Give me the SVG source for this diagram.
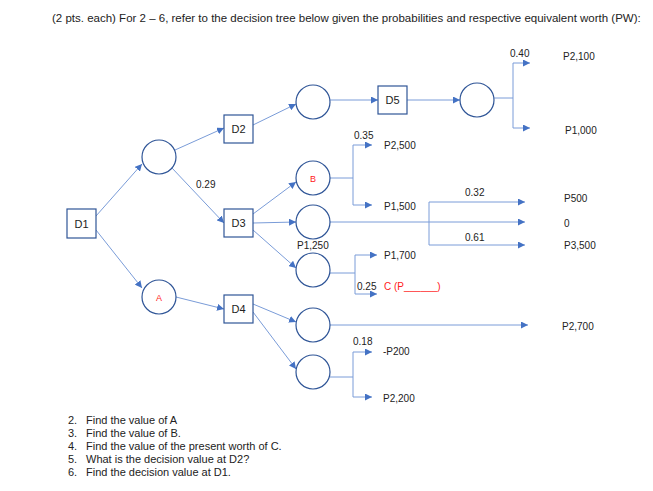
<svg xmlns="http://www.w3.org/2000/svg" width="653" height="491" viewBox="0 0 653 491">
<defs>
<marker id="ar" viewBox="0 0 10 10" refX="10" refY="5" markerWidth="7" markerHeight="7" orient="auto" markerUnits="userSpaceOnUse"><path d="M0,0L10,5L0,10Z" fill="#4472C4"/></marker>
</defs>
<style>
text{font-family:"Liberation Sans",Arial,sans-serif;font-size:10px;fill:#222}
.t{font-size:11px}
.h{font-size:11.5px}
.q{font-size:11px}
.r{fill:#ff2020}
rect{fill:#fff;stroke:#2F5597;stroke-width:1.2}
circle{fill:#fff;stroke:#2F5597;stroke-width:1.2}
.c path,.c line{stroke:#7A9CD8;stroke-width:1;fill:none}
.a{marker-end:url(#ar)}
</style>
<rect width="653" height="491" fill="#fff" style="stroke:none"/>
<text x="52" y="22" class="h">(2 pts. each) For 2 – 6, refer to the decision tree below given the probabilities and respective equivalent worth (PW):</text>
<g class="c">
<line class="a" x1="96" y1="216" x2="142" y2="164"/>
<line class="a" x1="96" y1="230" x2="142" y2="288"/>
<line class="a" x1="175" y1="150" x2="224" y2="128"/>
<line class="a" x1="172" y1="168" x2="224" y2="223"/>
<line class="a" x1="176" y1="297" x2="224" y2="309"/>
<line class="a" x1="253" y1="125" x2="296" y2="104"/>
<line class="a" x1="253" y1="214" x2="296" y2="182"/>
<line class="a" x1="253" y1="223" x2="296" y2="222"/>
<line class="a" x1="253" y1="230" x2="296" y2="268"/>
<line class="a" x1="253" y1="304" x2="296" y2="322"/>
<line class="a" x1="253" y1="312" x2="296" y2="369"/>
<line class="a" x1="330" y1="100" x2="378" y2="100"/>
<line class="a" x1="407" y1="100" x2="460" y2="100"/>
<line x1="494" y1="98" x2="513" y2="98"/>
<path class="a" d="M513,98V63H530"/>
<path class="a" d="M513,98V128H530"/>
<line x1="330" y1="178" x2="353" y2="178"/>
<path class="a" d="M353,178V145H372"/>
<path class="a" d="M353,178V205H372"/>
<line class="a" x1="330" y1="222" x2="525" y2="222"/>
<path class="a" d="M429,222V202H525"/>
<path class="a" d="M429,222V245H525"/>
<line x1="330" y1="273" x2="355" y2="273"/>
<path class="a" d="M355,273V255H377"/>
<path class="a" d="M355,273V294H377"/>
<line class="a" x1="330" y1="325" x2="528" y2="325"/>
<line x1="330" y1="377" x2="353" y2="377"/>
<path class="a" d="M353,377V352H372"/>
<path class="a" d="M353,377V397H372"/>
</g>
<g id="D1"><rect x="67" y="209" width="29" height="29"/><text x="81.5" y="228" text-anchor="middle" class="t">D1</text></g>
<g id="C1"><circle cx="159" cy="157" r="17"/></g>
<g id="A"><circle cx="159" cy="297" r="17"/><text x="159" y="301" text-anchor="middle" class="r" style="font-size:9px">A</text></g>
<g id="D2"><rect x="224" y="115" width="29" height="28"/><text x="238.5" y="133" text-anchor="middle" class="t">D2</text></g>
<g id="D3"><rect x="224" y="209" width="29" height="28"/><text x="238.5" y="227" text-anchor="middle" class="t">D3</text></g>
<g id="D4"><rect x="224" y="295" width="29" height="28"/><text x="238.5" y="313" text-anchor="middle" class="t">D4</text></g>
<g id="C2"><circle cx="313" cy="102" r="17"/></g>
<g id="B"><circle cx="313" cy="178" r="17"/><text x="313" y="182" text-anchor="middle" class="r" style="font-size:9px">B</text></g>
<g id="C3"><circle cx="313" cy="222" r="17"/></g>
<g id="C4"><circle cx="313" cy="270" r="17"/></g>
<g id="C5"><circle cx="313" cy="325" r="17"/></g>
<g id="C6"><circle cx="313" cy="372" r="17"/></g>
<g id="D5"><rect x="378" y="86" width="29" height="28"/><text x="392.5" y="104" text-anchor="middle" class="t">D5</text></g>
<g id="C7"><circle cx="477" cy="100" r="17"/></g>
<text x="196" y="188">0.29</text>
<text x="510" y="57">0.40</text>
<text x="563" y="60">P2,100</text>
<text x="565" y="134">P1,000</text>
<text x="354" y="139">0.35</text>
<text x="384" y="149">P2,500</text>
<text x="384" y="210">P1,500</text>
<text x="465" y="196">0.32</text>
<text x="465" y="241">0.61</text>
<text x="564" y="202">P500</text>
<text x="564" y="227">0</text>
<text x="564" y="249">P3,500</text>
<text x="297" y="249">P1,250</text>
<text x="384" y="259">P1,700</text>
<text x="357" y="290">0.25</text>
<text x="384" y="290" class="r">C (P______)</text>
<text x="562" y="330">P2,700</text>
<text x="353" y="345">0.18</text>
<text x="383" y="355">-P200</text>
<text x="383" y="402">P2,200</text>
<g class="q">
<text x="68" y="424" class="q">2.</text><text x="86" y="424" class="q">Find the value of A</text>
<text x="68" y="437" class="q">3.</text><text x="86" y="437" class="q">Find the value of B.</text>
<text x="68" y="450" class="q">4.</text><text x="86" y="450" class="q">Find the value of the present worth of C.</text>
<text x="68" y="463" class="q">5.</text><text x="86" y="463" class="q">What is the decision value at D2?</text>
<text x="68" y="476" class="q">6.</text><text x="86" y="476" class="q">Find the decision value at D1.</text>
</g>
</svg>
